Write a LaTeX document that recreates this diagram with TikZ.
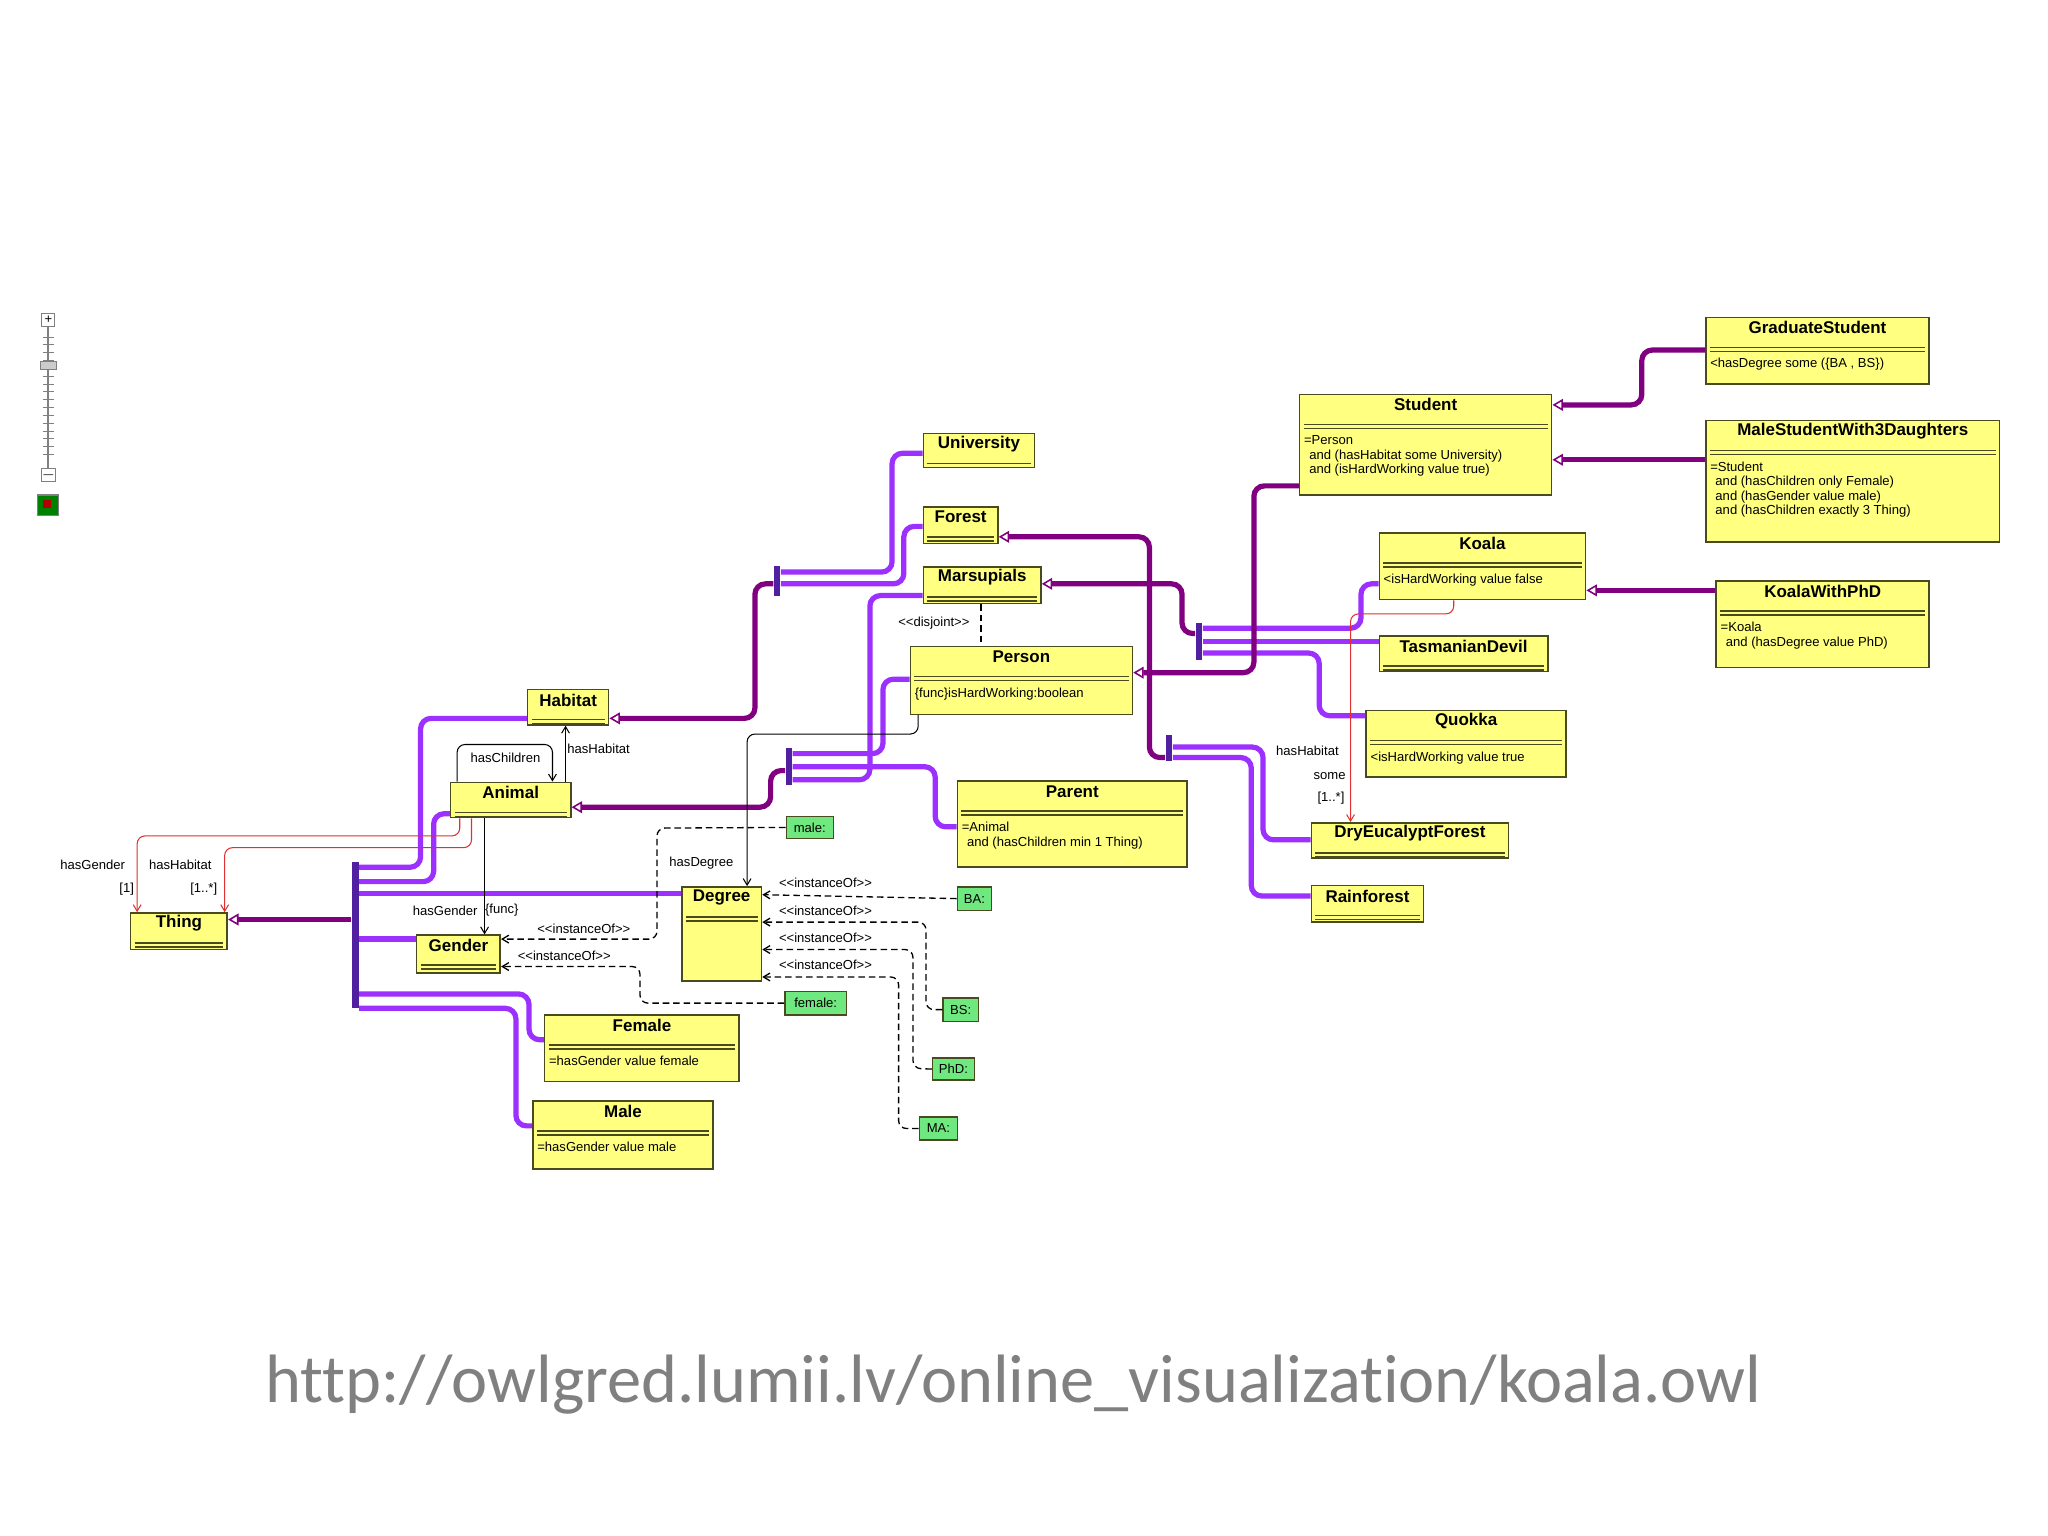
\documentclass[tikz,border=0pt]{standalone}
\usepackage{fontspec}
\setmainfont{Liberation Sans}
\newfontfamily\urlfont[Ligatures={NoCommon}]{Carlito}
\usetikzlibrary{arrows.meta}
\definecolor{boxy}{HTML}{FFFF80}
\definecolor{boxb}{HTML}{4A4A20}
\definecolor{vio}{HTML}{9B30FF}
\definecolor{dpur}{HTML}{800080}
\definecolor{barc}{HTML}{5020A0}
\definecolor{grn}{HTML}{70E880}
\definecolor{redl}{HTML}{E03030}
\tikzset{
 clsbox/.style={draw=boxb,fill=boxy,line width=0.6pt,inner sep=0pt,rectangle},
 ttl/.style={font=\bfseries\fontsize{6.5}{7}\selectfont,inner sep=0pt},
 attr/.style={font=\fontsize{5}{5.6}\selectfont,inner sep=0pt,align=left},
 lbl/.style={font=\fontsize{5}{6}\selectfont,inner sep=0.5pt},
 ibox/.style={draw=boxb,fill=grn,line width=0.6pt,font=\fontsize{5}{6}\selectfont,inner sep=0pt},
 pl/.style={draw=vio,line width=2pt,rounded corners=4pt},
 dl/.style={draw=dpur,line width=2pt,rounded corners=4pt,-{Triangle[open,length=4pt,width=4.5pt,line width=0.6pt,fill=white]}},
 barn/.style={fill=barc,draw=none,minimum width=2.5pt,inner sep=0pt},
 ba/.style={-{Straight Barb[length=2.5pt,width=3pt]},line width=0.4pt,rounded corners=3pt},
 rl/.style={draw=redl,line width=0.4pt,rounded corners=3pt,-{Straight Barb[length=2.5pt,width=3pt]}},
 dsh/.style={dashed,dash pattern=on 2.5pt off 1.5pt,line width=0.5pt,rounded corners=3pt,-{Straight Barb[length=2.5pt,width=3pt]}},
}
\newcommand\io{{<}{<}instanceOf{>}{>}}
\newcommand\ind{\hspace*{2pt}}
\newcommand\cls[7]{%
 \node[clsbox,minimum width={(#4-#2)*0.5pt},minimum height={(#5-#3)*0.5pt}] (#1) at ({(#2+#4)/2},{(#3+#5)/2}) {};
 \node[ttl] at ({(#2+#4)/2},#3+8) {#6};
 \draw[boxb,line width=0.6pt] (#2+3,#3+23)--(#4-3,#3+23) (#2+3,#3+26)--(#4-3,#3+26);
 \node[attr,anchor=north west] at (#2+3,#3+31) {#7};
}
\newcommand\ib[6]{%
 \node[ibox,minimum width={(#4-#2)*0.5pt},minimum height={(#5-#3)*0.5pt}] (#1) at ({(#2+#4)/2},{(#3+#5)/2}) {#6};
}
\begin{document}
\begin{tikzpicture}[x=0.5pt,y=-0.5pt]
\useasboundingbox[fill=white] (0,0) rectangle (1568,1176);
% zoom widget
\node[draw=gray,fill=white,minimum size=5pt,inner sep=0pt,font=\fontsize{5}{5}\selectfont] (zp) at (37,245) {+};
\node[draw=gray,fill=white,minimum size=5pt,inner sep=0pt,font=\fontsize{5}{5}\selectfont] (zm) at (37,364) {$-$};
\draw[gray,line width=0.8pt] (zp.south) -- (zm.north);
\foreach \t in {258,264,...,352} \draw[gray,line width=0.3pt] (33,\t)--(41,\t);
\node[draw=gray,fill=gray!40,minimum width=6pt,minimum height=3pt,inner sep=0pt] (zk) at (37,280) {};
\node[draw=gray,fill=green!50!black,minimum size=8pt,inner sep=0pt] (ico) at (37,387) {};
\fill[red!70!black] (33,383) rectangle (39,389);
% classes
\cls{GS}{1306}{243}{1477}{294}{GraduateStudent}{<hasDegree some (\{BA , BS\})}
\cls{St}{995}{302}{1188}{379}{Student}{=Person\\\ind and (hasHabitat some University)\\\ind and (isHardWorking value true)}
\cls{MS}{1306}{322}{1531}{415}{MaleStudentWith3Daughters}{=Student\\\ind and (hasChildren only Female)\\\ind and (hasGender value male)\\\ind and (hasChildren exactly 3 Thing)}
\cls{Ko}{1056}{408}{1214}{459}{Koala}{<isHardWorking value false}
\cls{TD}{1056}{487}{1185}{514}{TasmanianDevil}{}
\cls{KP}{1314}{445}{1477}{511}{KoalaWithPhD}{=Koala\\\ind and (hasDegree value PhD)}
\cls{Qu}{1046}{544}{1199}{595}{Quokka}{<isHardWorking value true}
\cls{DE}{1004}{630}{1155}{657}{DryEucalyptForest}{}
\cls{RF}{1004}{678}{1090}{706}{Rainforest}{}
\cls{Un}{707}{332}{792}{358}{University}{}
\cls{Fo}{707}{388}{764}{416}{Forest}{}
\cls{Ma}{707}{434}{797}{462}{Marsupials}{}
\cls{Pe}{697}{495}{867}{547}{Person}{\{func\}isHardWorking:boolean}
\cls{Pa}{733}{598}{909}{664}{Parent}{=Animal\\\ind and (hasChildren min 1 Thing)}
\cls{Ha}{404}{528}{466}{555}{Habitat}{}
\cls{An}{345}{599}{437}{626}{Animal}{}
\cls{Th}{100}{699}{174}{727}{Thing}{}
\cls{Ge}{319}{716}{383}{745}{Gender}{}
\cls{De}{522}{679}{583}{751}{Degree}{}
\cls{Fe}{417}{777}{566}{828}{Female}{=hasGender value female}
\cls{Mal}{408}{843}{546}{895}{Male}{=hasGender value male}
% individuals
\ib{im}{602}{625}{638}{642}{male:}
\ib{iba}{733}{679}{759}{697}{BA:}
\ib{ife}{601}{759}{648}{777}{female:}
\ib{ibs}{722}{764}{749}{782}{BS:}
\ib{iphd}{714}{810}{746}{827}{PhD:}
\ib{ima}{704}{855}{733}{873}{MA:}
% bars
\node[barn,minimum height=11.5pt] (b1) at (595,444.5) {};
\node[barn,minimum height=14pt] (b2) at (604,587) {};
\node[barn,minimum height=14pt] (b3) at (918,491) {};
\node[barn,minimum height=10pt] (b4) at (895,573) {};
\node[barn,minimum height=56pt] (bb) at (272,716) {};
% subclass lines
\draw[pl] (b1.east|-0,438) -- (683,438) -- (683,347) -- (Un.west|-0,347);
\draw[pl] (b1.east|-0,447) -- (692,447) -- (692,403) -- (Fo.west|-0,403);
\draw[dl] (b1.west|-0,447) -- (578,447) -- (578,550) -- (Ha.east|-0,550);
\draw[pl] (b2.east|-0,577) -- (676,577) -- (676,520) -- (Pe.west|-0,520);
\draw[pl] (b2.east|-0,587) -- (716,587) -- (716,633) -- (Pa.west|-0,633);
\draw[pl] (b2.east|-0,597) -- (666,597) -- (666,456) -- (Ma.west|-0,456);
\draw[dl] (b2.west|-0,590) -- (590,590) -- (590,618) -- (An.east|-0,618);
\draw[pl] (b3.east|-0,481) -- (1042,481) -- (1042,447) -- (Ko.west|-0,447);
\draw[pl] (b3.east|-0,491) -- (TD.west|-0,491);
\draw[pl] (b3.east|-0,500) -- (1010,500) -- (1010,548) -- (Qu.west|-0,548);
\draw[dl] (b3.west|-0,485) -- (905,485) -- (905,447) -- (Ma.east|-0,447);
\draw[dl] (St.west|-0,372) -- (960,372) -- (960,515) -- (Pe.east|-0,515);
\draw[pl] (b4.east|-0,572) -- (967,572) -- (967,643) -- (DE.west|-0,643);
\draw[pl] (b4.east|-0,580) -- (958,580) -- (958,686) -- (RF.west|-0,686);
\draw[dl] (b4.west|-0,580) -- (880,580) -- (880,411) -- (Fo.east|-0,411);
\draw[pl] (bb.east|-0,664) -- (322,664) -- (322,550) -- (Ha.west|-0,550);
\draw[pl] (bb.east|-0,675) -- (332,675) -- (332,623) -- (An.west|-0,623);
\draw[pl] (bb.east|-0,684) -- (De.west|-0,684);
\draw[pl] (bb.east|-0,719) -- (Ge.west|-0,719);
\draw[pl] (bb.east|-0,761) -- (405,761) -- (405,796) -- (Fe.west|-0,796);
\draw[pl] (bb.east|-0,772) -- (395,772) -- (395,862) -- (Mal.west|-0,862);
\draw[dl] (bb.west|-0,704) -- (Th.east|-0,704);
\draw[dl] (GS.west|-0,268) -- (1257,268) -- (1257,310) -- (St.east|-0,310);
\draw[dl] (MS.west|-0,352) -- (St.east|-0,352);
\draw[dl] (KP.west|-0,452) -- (Ko.east|-0,452);
% disjoint
\draw[dashed,dash pattern=on 2.5pt off 1.5pt,line width=0.5pt] (Ma.south-|751,0) -- (Pe.north-|751,0);
\node[lbl] (ldis) at (715,477) {{<}{<}disjoint{>}{>}};
% associations
\draw[ba] (An.north-|433,0) -- (Ha.south-|433,0);
\node[lbl,anchor=west] (lhh) at (433,573) {hasHabitat};
\draw[ba] (An.north-|350,0) -- (350,570) -- (423,570) -- (An.north-|423,0);
\node[lbl] (lhc) at (387,580) {hasChildren};
\draw[ba] (An.south-|371,0) -- (Ge.north-|371,0);
\node[lbl,anchor=east] (lhg) at (367,697) {hasGender};
\node[lbl,anchor=west] (lfu) at (370,697) {\{func\}};
\draw[ba] (Pe.south-|703,0) -- (703,562) -- (572,562) -- (De.north-|572,0);
\node[lbl] (lhd) at (537,661) {hasDegree};
\draw[rl] (An.south-|352,0) -- (352,640) -- (105,640) -- (Th.north-|105,0);
\draw[rl] (An.south-|361,0) -- (361,649) -- (172,649) -- (Th.north-|172,0);
\node[lbl] (l1) at (71,662) {hasGender};
\node[lbl] (l2) at (97,681) {[1]};
\node[lbl] (l3) at (138,662) {hasHabitat};
\node[lbl] (l4) at (156,681) {[1..*]};
\draw[rl] (Ko.south-|1113,0) -- (1113,470) -- (1034,470) -- (DE.north-|1034,0);
\node[lbl] (l5) at (1001,575) {hasHabitat};
\node[lbl] (l6) at (1018,594) {some};
\node[lbl] (l7) at (1019,611) {[1..*]};
% instanceOf
\draw[dsh] (im.west) -- (503,634) -- (503,719) -- (Ge.east|-0,719);
\node[lbl] at (447,711) {\io};
\draw[dsh] (ife.west) -- (490,768) -- (490,740) -- (Ge.east|-0,740);
\node[lbl] at (432,732) {\io};
\draw[dsh] (iba.west) -- (De.east|-0,685);
\node[lbl] at (632,676) {\io};
\draw[dsh] (ibs.west) -- (709,773) -- (709,706) -- (De.east|-0,706);
\node[lbl] at (632,697) {\io};
\draw[dsh] (iphd.west) -- (699,818) -- (699,727) -- (De.east|-0,727);
\node[lbl] at (632,718) {\io};
\draw[dsh] (ima.west) -- (688,864) -- (688,748) -- (De.east|-0,748);
\node[lbl] at (632,739) {\io};
% url
\node[font=\urlfont\fontsize{26.2}{30}\selectfont,text=gray] (url) at (776,1060) {http://owlgred.lumii.lv/online\_visualization/koala.owl};
\end{tikzpicture}
\end{document}
